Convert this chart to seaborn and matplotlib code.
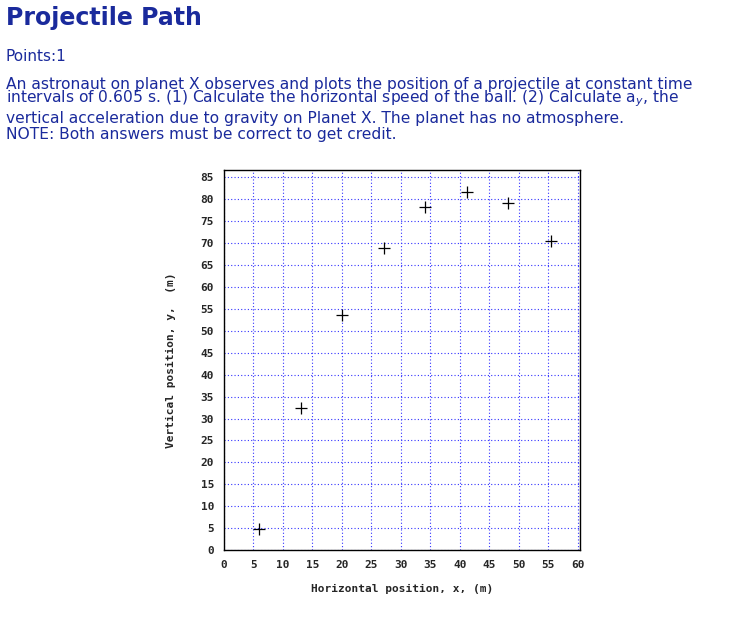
import matplotlib
matplotlib.use("Agg")
import matplotlib.pyplot as plt
import seaborn as sns
import pandas as pd

# data
x_pos = [5.9, 13.1, 20.0, 27.2, 34.1, 41.2, 48.2, 55.4]
y_pos = [4.9, 32.3, 53.6, 68.8, 78.2, 81.7, 79.1, 70.6]
x_ticks = list(range(0, 61, 5))
y_ticks = list(range(0, 86, 5))

df = pd.DataFrame({"x": x_pos, "y": y_pos})

sns.set_style("white")
plt.rcParams['font.family'] = ['DejaVu Sans']

fig = plt.figure(figsize=(7.44, 6.18), dpi=100)
blue = "#1a2a9c"
fig.text(0.008, 0.971, "Projectile Path", fontsize=17, fontweight="bold", color=blue, va="center")
fig.text(0.008, 0.908, "Points:1", fontsize=11, color=blue, va="center")
lines = [
    "An astronaut on planet X observes and plots the position of a projectile at constant time",
    "intervals of 0.605 s. (1) Calculate the horizontal speed of the ball. (2) Calculate a$_y$, the",
    "vertical acceleration due to gravity on Planet X. The planet has no atmosphere.",
    "NOTE: Both answers must be correct to get credit.",
]
for ln, yy in zip(lines, [84, 99, 119, 134]):
    fig.text(0.008, 1 - yy / 618, ln, fontsize=11.2, color=blue, va="center")

ax = fig.add_axes([0.301, 0.110, 0.479, 0.615])
sns.scatterplot(data=df, x="x", y="y", marker="+", color="black", s=70, linewidth=0.9, ax=ax)
ax.set_xlim(0, 60.4)
ax.set_ylim(0, 86.7)
ax.set_xticks(x_ticks)
ax.set_yticks(y_ticks)
ax.grid(True, color="#3333ff", linestyle=(0, (1, 2)), linewidth=0.8)
ax.set_axisbelow(True)
for s in ax.spines.values():
    s.set_color("black")
    s.set_linewidth(1)
mono = dict(family="DejaVu Sans Mono", fontweight="bold", fontsize=8)
ax.set_xticklabels([str(t) for t in x_ticks], **mono)
ax.set_yticklabels([str(t) for t in y_ticks], **mono)
ax.tick_params(length=0, pad=7)
ax.set_xlabel("Horizontal position, x, (m)", labelpad=10, **mono)
ax.set_ylabel("Vertical position, y,  (m)", labelpad=18, **mono)

fig.savefig("out.png", dpi=100)
